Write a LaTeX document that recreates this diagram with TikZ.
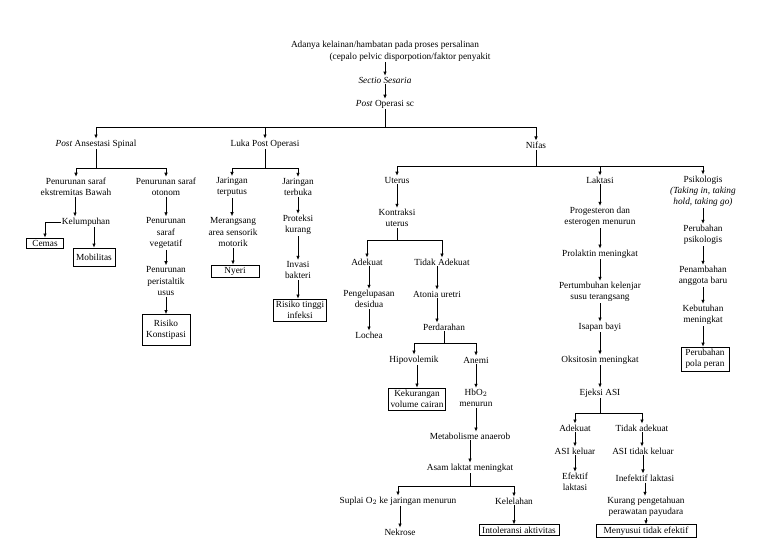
\documentclass[tikz,border=0pt]{standalone}
\usepackage{fontspec}
\setmainfont{Liberation Serif}
\usetikzlibrary{arrows.meta}
\begin{document}
\begin{tikzpicture}[x=1pt,y=-1pt,
  every node/.style={font=\fontsize{9.3}{11.5}\selectfont,align=center,inner sep=1pt},
  box/.style={draw,line width=0.7pt,inner sep=2pt},
  arr/.style={-{Latex[length=4pt,width=3.5pt]},line width=0.7pt},
  ln/.style={line width=0.7pt}]
\useasboundingbox (0,0) rectangle (768,543);
\newcommand{\ar}[2]{\draw[arr] (#1.south) -- (#1.south |- #2.north);}
\newcommand{\brl}[2]{\draw[ln] (#1.south) -- (#1.south |- 0,#2);}
\newcommand{\hb}[3]{\draw[ln] (#2.north |- 0,#1) -- (#3.north |- 0,#1);}
\newcommand{\dn}[2]{\draw[arr] (#2.north |- 0,#1) -- (#2.north);}
% top
\node (t1) at (385,45) {Adanya kelainan/hambatan pada proses persalinan};
\node (t2) at (410,57) {(cepalo pelvic disporpotion/faktor penyakit};
\node (ss) at (385,80) {\textit{Sectio Sesaria}};
\node (po) at (385,104) {\textit{Post} Operasi sc};
\draw[arr] (t2.south -| ss) -- (ss.north);
\ar{ss}{po}
% level 1
\node (pas) at (96,144) {\textit{Post} Ansestasi Spinal};
\node (luka) at (265,144) {Luka Post Operasi};
\node (nifas) at (536,145) {Nifas};
\brl{po}{127}
\hb{127}{pas}{nifas}
\dn{127}{pas}\dn{127}{luka}\dn{127}{nifas}
% post anestesi
\node (pse) at (76,187) {Penurunan saraf\\ekstremitas Bawah};
\node (pso) at (166,187) {Penurunan saraf\\otonom};
\brl{pas}{168}\hb{168}{pse}{pso}\dn{168}{pse}\dn{168}{pso}
\node (kel) at (86,222) {Kelumpuhan};
\node[box,minimum width=37pt] (cemas) at (45,243) {Cemas};
\node[box,minimum width=42pt,minimum height=18pt] (mob) at (94,257) {Mobilitas};
\draw[arr] ([xshift=-1pt]pse.south) -- ([xshift=-1pt]pse.south |- kel.north);
\draw[arr] (kel.west) -| (cemas.north);
\draw[arr] (kel.south -| mob) -- (mob.north);
\node (psv) at (166,233) {Penurunan\\saraf\\vegetatif};
\ar{pso}{psv}
\node (ppu) at (166,281) {Penurunan\\peristaltik\\usus};
\ar{psv}{ppu}
\node[box,minimum width=48pt,minimum height=31pt] (rk) at (166,330) {Risiko\\Konstipasi};
\ar{ppu}{rk}
% luka
\node (jt) at (232,187) {Jaringan\\terputus};
\node (jb) at (298,187) {Jaringan\\terbuka};
\brl{luka}{168}\hb{168}{jt}{jb}\dn{168}{jt}\dn{168}{jb}
\node (mas) at (233,232) {Merangsang\\area sensorik\\motorik};
\ar{jt}{mas}
\node[box,minimum width=48pt] (nyeri) at (235,271) {Nyeri};
\draw[arr] (mas.south -| 233,0) -- (233,0 |- nyeri.north);
\node (pk) at (298,225) {Proteksi\\kurang};
\ar{jb}{pk}
\node (ib) at (298,270) {Invasi\\bakteri};
\ar{pk}{ib}
\node[box] (rti) at (300,310) {Risiko tinggi\\infeksi};
\draw[arr] (ib.south) -- (ib.south |- rti.north);
% nifas
\node (ut) at (397,180) {Uterus};
\node (lak) at (600,180) {Laktasi};
\node (psi) at (703,180) {Psikologis};
\node (tk) at (703,197) {\textit{(Taking in, taking}\\\textit{hold, taking go)}};
\brl{nifas}{166}\hb{166}{ut}{psi}\dn{166}{ut}\dn{166}{lak}\dn{166}{psi}
% uterus
\node (ku) at (397,218) {Kontraksi\\uterus};
\ar{ut}{ku}
\node (ad) at (367,262) {Adekuat};
\node (ta) at (442,262) {Tidak Adekuat};
\brl{ku}{240}\hb{240}{ad}{ta}\dn{240}{ad}\dn{240}{ta}
\node (pd) at (369,299) {Pengelupasan\\desidua};
\draw[arr] (ad.south -| pd) -- (pd.north);
\node (loc) at (369,335) {Lochea};
\ar{pd}{loc}
\node (au) at (437,294) {Atonia uretri};
\draw[arr] (ta.south -| au) -- (au.north);
\node (per) at (444,327) {Perdarahan};
\draw[arr] (au.south) -- (au.south |- per.north);
\node (hip) at (414,360) {Hipovolemik};
\node (ane) at (476,360) {Anemi};
\brl{per}{343}\hb{343}{hip}{ane}\dn{343}{hip}\dn{343}{ane}
\node[box] (kvc) at (417,399) {Kekurangan\\volume cairan};
\draw[arr] (hip.south -| kvc) -- (kvc.north);
\node (hbo) at (476,398) {HbO$_2$\\menurun};
\ar{ane}{hbo}
\node (ma) at (470,436) {Metabolisme anaerob};
\draw[arr] (hbo.south) -- (hbo.south |- ma.north);
\node (alm) at (470,468) {Asam laktat meningkat};
\ar{ma}{alm}
\node (sup) at (398,501) {Suplai O$_2$ ke jaringan menurun};
\node (kll) at (514,501) {Kelelahan};
\brl{alm}{486}\hb{486}{sup}{kll}\dn{486}{sup}\dn{486}{kll}
\node (nek) at (400,532) {Nekrose};
\draw[arr] (sup.south -| nek) -- (nek.north);
\node[box,minimum width=80pt] (ia) at (519,530) {Intoleransi aktivitas};
\draw[arr] (kll.south) -- (kll.south |- ia.north);
% laktasi
\node (pem) at (600,217) {Progesteron dan\\esterogen menurun};
\ar{lak}{pem}
\node (prm) at (600,254) {Prolaktin meningkat};
\ar{pem}{prm}
\node (pks) at (600,292) {Pertumbuhan kelenjar\\susu terangsang};
\ar{prm}{pks}
\node (isb) at (600,327) {Isapan bayi};
\ar{pks}{isb}
\node (oks) at (600,360) {Oksitosin meningkat};
\ar{isb}{oks}
\node (eja) at (600,393) {Ejeksi ASI};
\ar{oks}{eja}
\node (lad) at (575,428) {Adekuat};
\node (lta) at (642,428) {Tidak adekuat};
\brl{eja}{413}\hb{413}{lad}{lta}\dn{413}{lad}\dn{413}{lta}
\node (ak) at (575,451) {ASI keluar};
\ar{lad}{ak}
\node (el) at (575,482) {Efektif\\laktasi};
\ar{ak}{el}
\node (atk) at (643,451) {ASI tidak keluar};
\ar{lta}{atk}
\node (inl) at (645,478) {Inefektif laktasi};
\ar{atk}{inl}
\node (kpp) at (646,507) {Kurang pengetahuan\\perawatan payudara};
\ar{inl}{kpp}
\node[box,minimum width=100pt] (mte) at (646,531) {Menyusui tidak efektif};
\ar{kpp}{mte}
% psikologis
\node (pp) at (703,235) {Perubahan\\psikologis};
\ar{tk}{pp}
\node (pab) at (703,276) {Penambahan\\anggota baru};
\ar{pp}{pab}
\node (kbm) at (703,315) {Kebutuhan\\meningkat};
\ar{pab}{kbm}
\node[box,minimum width=48pt] (ppr) at (705,359) {Perubahan\\pola peran};
\ar{kbm}{ppr}
\end{tikzpicture}
\end{document}
